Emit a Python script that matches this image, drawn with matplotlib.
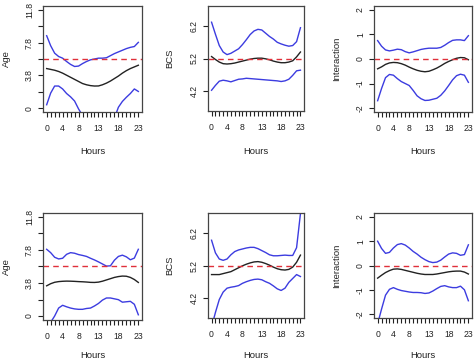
import matplotlib
matplotlib.use("Agg")
import matplotlib.pyplot as plt
import numpy as np

plt.rcParams['font.family'] = ['Liberation Sans', 'DejaVu Sans']

hours = list(range(24))
xtick_labels = ["0", "4", "8", "13", "18", "23"]
xtick_label_pos = [0, 4, 8, 13, 18, 23]

# ---- Top row ----
age1_upper = [8.7, 7.5, 6.6, 6.2, 6.0, 5.6, 5.25, 5.0, 5.05, 5.35, 5.6, 5.8, 5.9, 6.0, 6.0, 6.05, 6.3, 6.55, 6.75, 6.95, 7.15, 7.3, 7.4, 7.9]
age1_mean = [4.75, 4.65, 4.55, 4.4, 4.2, 3.95, 3.7, 3.45, 3.2, 2.95, 2.8, 2.7, 2.65, 2.66, 2.8, 3.0, 3.25, 3.55, 3.85, 4.2, 4.5, 4.75, 4.95, 5.15]
age1_lower = [0.4, 1.8, 2.65, 2.65, 2.3, 1.75, 1.35, 0.85, -0.1, -0.9, -1.5, -1.9, -2.1, -2.1, -1.9, -1.5, -1.0, -1.2, 0.1, 0.8, 1.3, 1.75, 2.3, 2.0]

bcs1_upper = [6.32, 5.95, 5.6, 5.4, 5.32, 5.36, 5.43, 5.5, 5.63, 5.78, 5.94, 6.05, 6.1, 6.08, 5.98, 5.88, 5.8, 5.7, 5.65, 5.61, 5.58, 5.6, 5.72, 6.15]
bcs1_mean = [5.26, 5.17, 5.09, 5.04, 5.03, 5.04, 5.06, 5.09, 5.12, 5.15, 5.18, 5.2, 5.21, 5.21, 5.19, 5.16, 5.12, 5.09, 5.07, 5.07, 5.09, 5.13, 5.25, 5.4]
bcs1_lower = [4.22, 4.37, 4.5, 4.53, 4.51, 4.48, 4.52, 4.56, 4.57, 4.59, 4.58, 4.57, 4.56, 4.55, 4.54, 4.53, 4.52, 4.51, 4.49, 4.51, 4.56, 4.68, 4.82, 4.84]

int1_upper = [0.75, 0.52, 0.37, 0.33, 0.36, 0.4, 0.38, 0.3, 0.25, 0.29, 0.34, 0.39, 0.42, 0.44, 0.44, 0.44, 0.47, 0.56, 0.67, 0.76, 0.78, 0.78, 0.75, 0.95]
int1_mean = [-0.4, -0.32, -0.22, -0.16, -0.14, -0.15, -0.19, -0.25, -0.33, -0.4, -0.46, -0.5, -0.52, -0.5, -0.44, -0.37, -0.28, -0.18, -0.1, -0.03, 0.03, 0.06, 0.05, -0.03]
int1_lower = [-1.7, -1.2, -0.76, -0.63, -0.66, -0.8, -0.92, -1.0, -1.08, -1.28, -1.5, -1.62, -1.69, -1.68, -1.64, -1.6, -1.48, -1.3, -1.08, -0.85, -0.68, -0.62, -0.66, -0.95]

# ---- Bottom row ----
age2_upper = [7.95, 7.55, 7.0, 6.8, 6.88, 7.35, 7.55, 7.48, 7.32, 7.22, 7.1, 6.88, 6.68, 6.45, 6.2, 5.95, 5.98, 6.65, 7.1, 7.25, 7.05, 6.7, 6.9, 7.95]
age2_mean = [3.6, 3.85, 4.02, 4.1, 4.14, 4.16, 4.15, 4.13, 4.1, 4.08, 4.05, 4.01, 4.0, 4.04, 4.15, 4.3, 4.45, 4.6, 4.7, 4.76, 4.74, 4.6, 4.35, 4.0]
age2_lower = [-1.6, -0.75, 0.0, 0.95, 1.28, 1.1, 0.95, 0.85, 0.8, 0.8, 0.9, 0.95, 1.2, 1.5, 1.9, 2.15, 2.15, 2.05, 1.95, 1.65, 1.7, 1.75, 1.4, 0.15]

bcs2_upper = [5.98, 5.59, 5.4, 5.36, 5.4, 5.53, 5.63, 5.68, 5.71, 5.74, 5.76, 5.76, 5.72, 5.66, 5.6, 5.53, 5.5, 5.5, 5.51, 5.52, 5.51, 5.51, 5.75, 6.8]
bcs2_mean = [4.92, 4.92, 4.92, 4.95, 4.98, 5.01, 5.07, 5.13, 5.19, 5.24, 5.28, 5.31, 5.32, 5.3, 5.26, 5.21, 5.15, 5.1, 5.07, 5.06, 5.08, 5.15, 5.3, 5.52]
bcs2_lower = [3.3, 3.75, 4.15, 4.38, 4.5, 4.53, 4.55, 4.58, 4.65, 4.7, 4.74, 4.77, 4.78, 4.76, 4.7, 4.65, 4.57, 4.48, 4.43, 4.5, 4.68, 4.8, 4.92, 4.86]

int2_upper = [1.0, 0.7, 0.5, 0.54, 0.72, 0.86, 0.9, 0.84, 0.72, 0.58, 0.47, 0.34, 0.24, 0.16, 0.12, 0.14, 0.22, 0.35, 0.47, 0.52, 0.5, 0.42, 0.45, 0.85]
int2_mean = [-0.52, -0.4, -0.29, -0.21, -0.15, -0.14, -0.16, -0.2, -0.24, -0.28, -0.32, -0.35, -0.37, -0.37, -0.37, -0.35, -0.32, -0.29, -0.26, -0.24, -0.23, -0.23, -0.27, -0.35]
int2_lower = [-2.4, -1.79, -1.22, -0.98, -0.91, -0.98, -1.03, -1.06, -1.09, -1.11, -1.11, -1.12, -1.15, -1.13, -1.05, -0.95, -0.86, -0.83, -0.88, -0.91, -0.91, -0.85, -1.0, -1.45]

age_ylim = (0, 11.8)
age_ref = 5.9
age_ticks = [0, 1.967, 3.933, 5.9, 7.867, 9.833, 11.8]
age_ticklabels = ["0", "", "3.8", "", "7.8", "", "11.8"]
bcs_ylim = (3.7, 6.7)
bcs_ref = 5.2
bcs_ticks = [4.2, 5.2, 6.2]
bcs_ticklabels = ["4.2", "5.2", "6.2"]
int_ylim = (-2, 2)
int_ref = 0
int_ticks = [-2, -1, 0, 1, 2]
int_ticklabels = ["-2", "-1", "0", "1", "2"]

W, H = 474, 362
fig = plt.figure(figsize=(W / 100, H / 100), dpi=100)

def px_axes(x0, x1, y0, y1):
    return fig.add_axes([x0 / W, 1 - y1 / H, (x1 - x0) / W, (y1 - y0) / H])

def px_text(x, y, s, **kw):
    fig.text(x / W, 1 - y / H, s, ha='center', va='center', **kw)

BLUE = '#3c3ce0'
RED = '#e0303a'
TXT = '#222222'

# box, series, y label, y label x-centre, x label y-centre, scale settings
panels = [
    ((43, 142, 6, 112), age1_upper, age1_mean, age1_lower, "Age", 6, 151, age_ylim, age_ref, age_ticks, age_ticklabels),
    ((208, 304, 6, 111), bcs1_upper, bcs1_mean, bcs1_lower, "BCS", 170, 151, bcs_ylim, bcs_ref, bcs_ticks, bcs_ticklabels),
    ((374, 472, 6, 112), int1_upper, int1_mean, int1_lower, "Interaction", 337, 151, int_ylim, int_ref, int_ticks, int_ticklabels),
    ((43, 142, 213, 320), age2_upper, age2_mean, age2_lower, "Age", 6, 356, age_ylim, age_ref, age_ticks, age_ticklabels),
    ((208, 304, 213, 318), bcs2_upper, bcs2_mean, bcs2_lower, "BCS", 170, 356, bcs_ylim, bcs_ref, bcs_ticks, bcs_ticklabels),
    ((374, 472, 213, 318), int2_upper, int2_mean, int2_lower, "Interaction", 337, 356, int_ylim, int_ref, int_ticks, int_ticklabels),
]

for (box, up, mn, lo, ylab, ylx, xly, ylim, ref, yt, ytl) in panels:
    ax = px_axes(*box)
    ax.plot(hours, up, color=BLUE, lw=1.0)
    ax.plot(hours, lo, color=BLUE, lw=1.0)
    ax.plot(hours, mn, color=TXT, lw=1.0)
    ax.axhline(ref, color=RED, lw=1.0, ls=(0, (4, 3)))
    r = ylim[1] - ylim[0]
    ax.set_ylim(ylim[0] - 0.04 * r, ylim[1] + 0.04 * r)
    ax.set_xlim(-0.92, 23.92)
    ax.set_xticks(hours)
    ax.set_xticklabels([str(h) if h in xtick_label_pos else "" for h in hours])
    ax.set_yticks(yt)
    ax.set_yticklabels(ytl, rotation=90, va='center')
    ax.tick_params(axis='both', direction='out', length=3.5, width=0.8,
                   labelsize=6.2, colors=TXT, pad=3)
    ax.tick_params(axis='x', pad=5)
    for s in ax.spines.values():
        s.set_color('#444444')
        s.set_linewidth(0.9)
    px_text(ylx, (box[2] + box[3]) / 2, ylab, rotation=90, fontsize=6.8, color=TXT)
    px_text((box[0] + box[1]) / 2, xly, "Hours", fontsize=6.8, color=TXT)

fig.savefig("out.png", dpi=100)
